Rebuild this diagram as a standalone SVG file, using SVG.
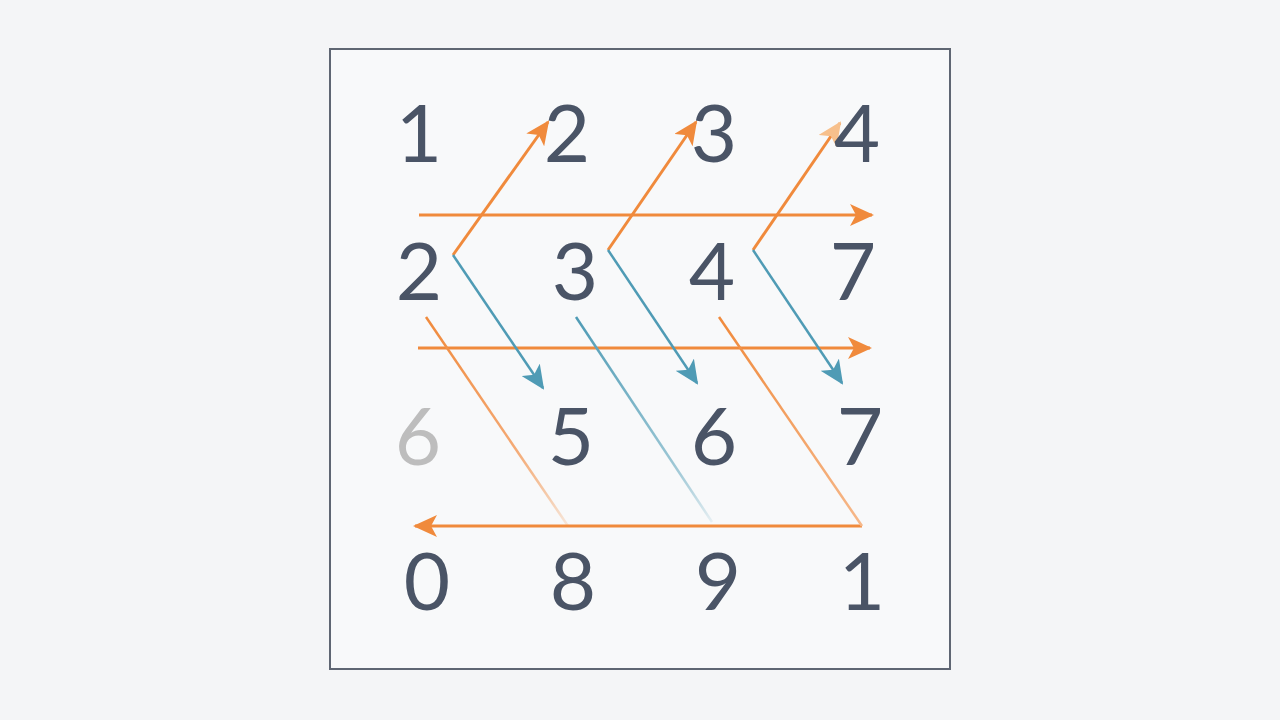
<svg xmlns="http://www.w3.org/2000/svg" width="1280" height="720" viewBox="0 0 1280 720">
<style>
.d{font-family:Lato,"Open Sans","Noto Sans",sans-serif;font-size:80px;fill:#4a5466;text-anchor:middle}
.o{stroke:#f08a3c;stroke-width:3;fill:none}
.t{stroke:#4f9bb5;stroke-width:2.5;fill:none}
</style>
<defs>
<marker id="ao" markerUnits="userSpaceOnUse" markerWidth="24" markerHeight="22" viewBox="0 0 24 22" refX="22" refY="11" orient="auto">
<path d="M0,0 L24,11 L0,22 L6,11 Z" fill="#f08a3c"/>
</marker>
<marker id="al" markerUnits="userSpaceOnUse" markerWidth="24" markerHeight="22" viewBox="0 0 24 22" refX="22" refY="11" orient="auto">
<path d="M0,0 L24,11 L0,22 L6,11 Z" fill="#f7c08c"/>
</marker>
<marker id="at" markerUnits="userSpaceOnUse" markerWidth="24" markerHeight="22" viewBox="0 0 24 22" refX="22" refY="11" orient="auto">
<path d="M0,0 L24,11 L0,22 L6,11 Z" fill="#4f9bb5"/>
</marker>
<linearGradient id="g1" gradientUnits="userSpaceOnUse" x1="426" y1="317" x2="568" y2="526">
<stop offset="0" stop-color="#f08a3c"/><stop offset="0.6" stop-color="#f4a872"/><stop offset="1" stop-color="#f08a3c" stop-opacity="0.15"/>
</linearGradient>
<linearGradient id="g2" gradientUnits="userSpaceOnUse" x1="576" y1="317" x2="712" y2="522">
<stop offset="0" stop-color="#4f9bb5"/><stop offset="0.6" stop-color="#8fc0d0"/><stop offset="1" stop-color="#4f9bb5" stop-opacity="0.1"/>
</linearGradient>
<linearGradient id="g3" gradientUnits="userSpaceOnUse" x1="719" y1="317" x2="862" y2="526">
<stop offset="0" stop-color="#f08a3c"/><stop offset="1" stop-color="#f6b88a"/>
</linearGradient>
<linearGradient id="g4" gradientUnits="userSpaceOnUse" x1="753" y1="250" x2="840" y2="123">
<stop offset="0" stop-color="#f4a55e"/><stop offset="1" stop-color="#f8c890"/>
</linearGradient>
</defs>
<rect width="1280" height="720" fill="#f4f5f7"/>
<rect id="frame" x="330" y="49" width="620" height="620" fill="#f8f9fa" stroke="#5f6673" stroke-width="2"/>
<g id="connectors">
<line class="o" x1="419" y1="215" x2="872" y2="215" marker-end="url(#ao)"/>
<line class="o" x1="418" y1="348" x2="870" y2="348" marker-end="url(#ao)"/>
<line class="o" x1="862" y1="526" x2="415" y2="526" marker-end="url(#ao)"/>
<line class="o" stroke-width="2.5" x1="453" y1="255" x2="548" y2="122" marker-end="url(#ao)"/>
<line class="o" stroke-width="2.5" x1="608" y1="250" x2="696" y2="122" marker-end="url(#ao)"/>
<line class="o" stroke="url(#g4)" stroke-width="2.5" x1="753" y1="250" x2="840" y2="123" marker-end="url(#al)"/>
<line class="t" x1="453" y1="255" x2="543" y2="388" marker-end="url(#at)"/>
<line class="t" x1="608" y1="250" x2="697" y2="383" marker-end="url(#at)"/>
<line class="t" x1="753" y1="250" x2="842" y2="383" marker-end="url(#at)"/>
<line stroke="url(#g1)" stroke-width="2.5" x1="426" y1="317" x2="568" y2="526"/>
<line stroke="url(#g2)" stroke-width="2.5" x1="576" y1="317" x2="712" y2="522"/>
<line stroke="url(#g3)" stroke-width="2.5" x1="719" y1="317" x2="862" y2="526"/>
</g>
<g id="row1">
<text class="d" x="419" y="162">1</text>
<text class="d" x="567" y="162">2</text>
<text class="d" x="714" y="162">3</text>
<text class="d" x="857" y="162">4</text>
</g>
<g id="row2">
<text class="d" x="419" y="300">2</text>
<text class="d" x="575" y="300">3</text>
<text class="d" x="712" y="300">4</text>
<text class="d" x="853" y="300">7</text>
</g>
<g id="row3">
<text class="d" x="418" y="465" style="fill:#bdbdbd">6</text>
<text class="d" x="571" y="465">5</text>
<text class="d" x="714" y="465">6</text>
<text class="d" x="860" y="465">7</text>
</g>
<g id="row4">
<text class="d" x="427" y="610">0</text>
<text class="d" x="573" y="610">8</text>
<text class="d" x="718" y="610">9</text>
<text class="d" x="862" y="610">1</text>
</g>
</svg>
